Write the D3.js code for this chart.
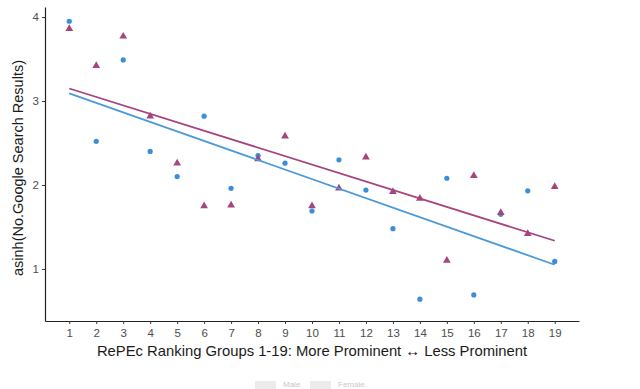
<!DOCTYPE html>
<html>
<head>
<meta charset="utf-8">
<script src="https://cdn.jsdelivr.net/npm/d3@7"></script>
<style>
  body { margin: 0; background: #fff; }
  text { font-family: "Liberation Sans", Arial, sans-serif; }
</style>
</head>
<body>
<script>
// ranking groups 1-19
var groups = d3.range(1, 20);
// blue circles
var circleVals = [3.95, 2.52, 3.49, 2.40, 2.10, 2.82, 1.96, 2.35, 2.26, 1.69,
                  2.30, 1.94, 1.48, 0.64, 2.08, 0.69, 1.65, 1.93, 1.09];
// magenta triangles
var triVals = [3.86, 3.42, 3.77, 2.82, 2.26, 1.75, 1.76, 2.31, 2.58, 1.75,
               1.96, 2.33, 1.92, 1.84, 1.10, 2.11, 1.67, 1.42, 1.98];
var yTicks = [1, 2, 3, 4];
var legendLabels = ["Male", "Female"];

var width = 640, height = 389;
var margin = {left: 45, top: 7, right: 61, bottom: 68};

var blue = "#3a8fd8", magenta = "#a6447e";

var svg = d3.select("body").append("svg")
    .attr("width", width)
    .attr("height", height);

var x = d3.scaleLinear()
    .domain([0.1, 19.9])
    .range([margin.left, width - margin.right]);

var y = d3.scaleLinear()
    .domain([0.38, 4.12])
    .range([height - margin.bottom, margin.top]);

// least squares fit, like geom_smooth(method = lm)
function fit(vals) {
  var mx = d3.mean(groups), my = d3.mean(vals);
  var num = d3.sum(groups, function(g, i) { return (g - mx) * (vals[i] - my); });
  var den = d3.sum(groups, function(g) { return (g - mx) * (g - mx); });
  var b = num / den;
  return [[1, my + b * (1 - mx)], [19, my + b * (19 - mx)]];
}

var line = d3.line()
    .x(function(d) { return x(d[0]); })
    .y(function(d) { return y(d[1]); });

// axes
var xAxis = svg.append("g")
    .attr("transform", "translate(0," + (height - margin.bottom) + ")")
    .call(d3.axisBottom(x).tickValues(groups).tickSize(3).tickSizeOuter(0));

var yAxis = svg.append("g")
    .attr("transform", "translate(" + margin.left + ",0)")
    .call(d3.axisLeft(y).tickValues(yTicks).tickFormat(d3.format("d"))
      .tickSize(3).tickSizeOuter(0));

[xAxis, yAxis].forEach(function(a) {
  a.select(".domain").attr("stroke", "#222").attr("stroke-width", 1.2);
  a.selectAll(".tick line").attr("stroke", "#333");
  a.selectAll(".tick text").attr("fill", "#4d4d4d").style("font-size", "11.5px")
    .style("font-family", "'Liberation Sans', Arial, sans-serif");
});
xAxis.selectAll(".tick text").attr("dy", "0.9em");
yAxis.selectAll(".tick text").attr("x", -6);

// points
svg.append("g").selectAll("circle")
    .data(circleVals)
    .enter().append("circle")
    .attr("cx", function(d, i) { return x(groups[i]); })
    .attr("cy", function(d) { return y(d); })
    .attr("r", 2.6)
    .attr("fill", blue);

var tri = d3.symbol().type(d3.symbolTriangle).size(26);
svg.append("g").selectAll("path")
    .data(triVals)
    .enter().append("path")
    .attr("d", tri)
    .attr("transform", function(d, i) { return "translate(" + x(groups[i]) + "," + y(d) + ")"; })
    .attr("fill", magenta);

// regression lines
svg.append("path")
    .attr("d", line(fit(triVals)))
    .attr("fill", "none")
    .attr("stroke", magenta)
    .attr("stroke-width", 1.8);

svg.append("path")
    .attr("d", line(fit(circleVals)))
    .attr("fill", "none")
    .attr("stroke", "#4a9ad9")
    .attr("stroke-width", 1.8);

// axis titles
svg.append("text")
    .attr("x", 312)
    .attr("y", 356)
    .attr("text-anchor", "middle")
    .attr("fill", "#1a1a1a")
    .style("font-size", "14.8px")
    .text("RePEc Ranking Groups 1-19: More Prominent \u2194 Less Prominent");

svg.append("text")
    .attr("transform", "translate(23," + 168 + ") rotate(-90)")
    .attr("text-anchor", "middle")
    .attr("fill", "#1a1a1a")
    .style("font-size", "14.5px")
    .text("asinh(No.Google Search Results)");

// legend at the bottom edge
var leg = svg.append("g");
legendLabels.forEach(function(l, i) {
  var lx = 255 + i * 55;
  leg.append("rect")
    .attr("x", lx).attr("y", 381)
    .attr("width", 21).attr("height", 20)
    .attr("fill", "#ececec");
  leg.append("text")
    .attr("x", lx + 28).attr("y", 387)
    .attr("fill", "#c8c8c8")
    .style("font-size", "8px")
    .text(l);
});
</script>
</body>
</html>
